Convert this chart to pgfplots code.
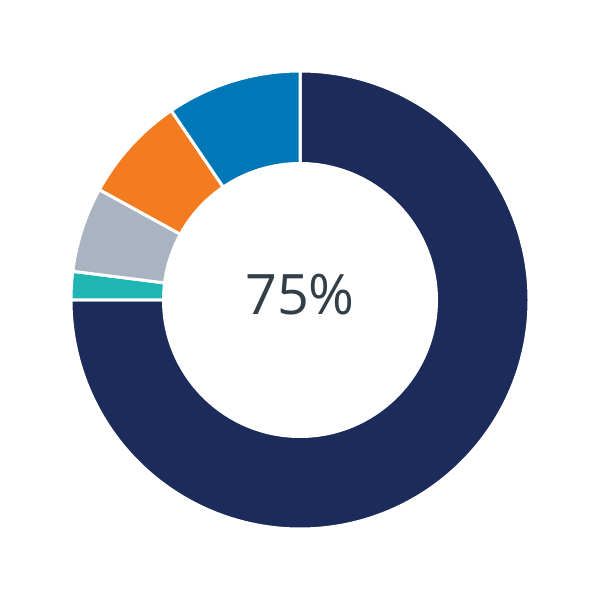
\documentclass[border=0pt]{standalone}
\usepackage{pgfplots}
\pgfplotsset{compat=1.18}
\usepackage{fontspec}
\setmainfont{Open Sans}
\definecolor{cnavy}{HTML}{1C2B5A}
\definecolor{cteal}{HTML}{1FB5B3}
\definecolor{cgray}{HTML}{A9B3C1}
\definecolor{corange}{HTML}{F47C20}
\definecolor{cblue}{HTML}{0077B6}
\definecolor{ctext}{HTML}{333F48}
% segment: colour, cumulative start (percent), value (percent)
\newcommand\seg[3]{%
  \fill[#1, draw=white, line width=3bp, line join=miter, shift={(axis cs:0,0)}]
    ({90-3.6*#2}:229bp) arc[start angle={90-3.6*#2}, end angle={90-3.6*(#2+#3)}, radius=229bp]
    -- ({90-3.6*(#2+#3)}:136.5bp) arc[start angle={90-3.6*(#2+#3)}, end angle={90-3.6*#2}, radius=136.5bp]
    -- cycle;}
\begin{document}
\begin{tikzpicture}
\begin{axis}[
  scale only axis, width=600bp, height=600bp,
  xmin=-300, xmax=300, ymin=-300, ymax=300,
  hide axis, clip=false]
\path (axis cs:-300,-300) (axis cs:300,300);
\seg{cnavy}{0}{75}
\seg{cteal}{75}{2}
\seg{cgray}{77}{6}
\seg{corange}{83}{7.5}
\seg{cblue}{90.5}{9.5}
\node[anchor=base, text=ctext, font=\fontsize{56}{60}\selectfont, inner sep=0pt] at (axis cs:0,-15) {75\%};
\end{axis}
\end{tikzpicture}
\end{document}
